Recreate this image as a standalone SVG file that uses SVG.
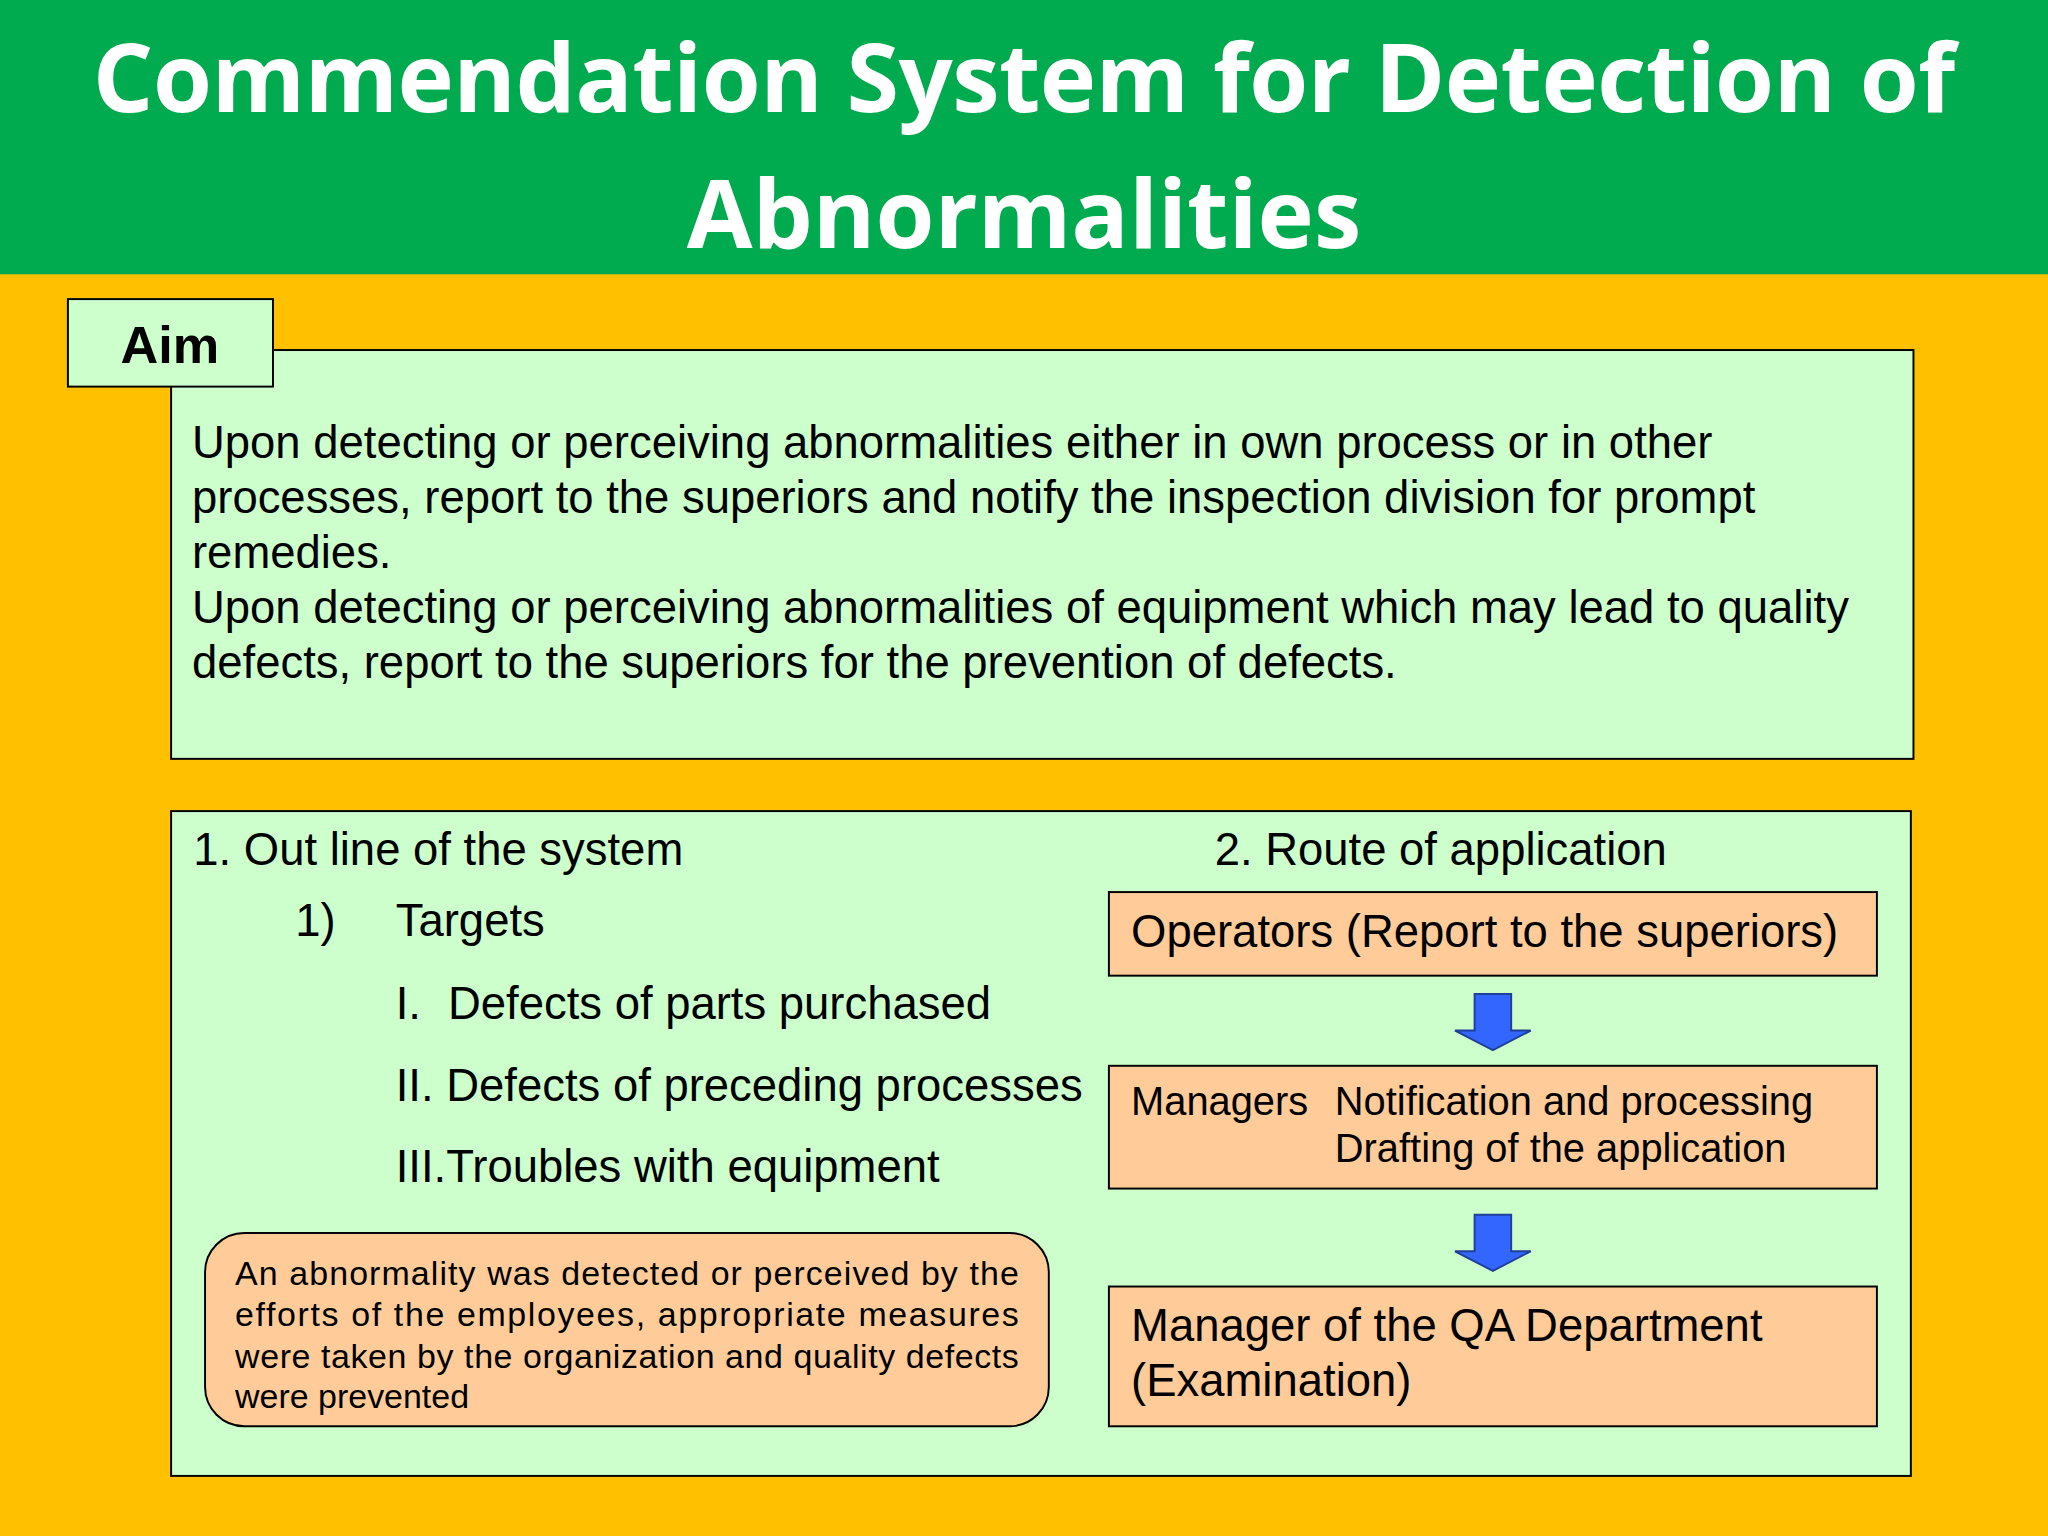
<svg xmlns="http://www.w3.org/2000/svg" width="2048" height="1536" viewBox="0 0 2048 1536">
<style>
.bx{fill:#CCFFCC;stroke:#000;stroke-width:1.5}
.or{fill:#FFCC99;stroke:#000;stroke-width:1.5}
.t{font-family:"Liberation Sans",Arial,sans-serif;font-size:34.8px;fill:#000}
.s{font-family:"Liberation Sans",Arial,sans-serif;font-size:26px;fill:#000}
.m{font-family:"Liberation Sans",Arial,sans-serif;font-size:30.5px;fill:#000}
.ar{fill:#3366FF;stroke:#1F3F99;stroke-width:1.5}
</style>
<g transform="scale(1.30612)">
<rect width="1568" height="1176" fill="#FFC000"/>
<rect width="1568" height="210" fill="#00AA4F"/>
<g id="title" font-family="'Open Sans',sans-serif" font-weight="bold" font-size="73" fill="#fff" text-anchor="middle">
<text x="784" y="86" textLength="1426">Commendation System for Detection of</text>
<text x="784" y="190">Abnormalities</text>
</g>
<g id="aim">
<rect class="bx" x="131" y="268" width="1334" height="313"/>
<rect class="bx" x="52" y="229" width="157" height="67"/>
<text x="130" y="278" text-anchor="middle" font-family="'Liberation Sans',Arial,sans-serif" font-weight="bold" font-size="40">Aim</text>
<text class="t" x="147" y="351">Upon detecting or perceiving abnormalities either in own process or in other</text>
<text class="t" x="147" y="393">processes, report to the superiors and notify the inspection division for prompt</text>
<text class="t" x="147" y="435">remedies.</text>
<text class="t" x="147" y="477">Upon detecting or perceiving abnormalities of equipment which may lead to quality</text>
<text class="t" x="147" y="519">defects, report to the superiors for the prevention of defects.</text>
</g>
<g id="system">
<rect class="bx" x="131" y="621" width="1332" height="509"/>
<text class="t" x="148" y="662">1. Out line of the system</text>
<text class="t" x="930" y="662">2. Route of application</text>
<text class="t" x="226" y="717">1)</text>
<text class="t" x="303" y="717">Targets</text>
<text class="t" x="303" y="780">I.</text>
<text class="t" x="343" y="780">Defects of parts purchased</text>
<text class="t" x="303" y="843">II. Defects of preceding processes</text>
<text class="t" x="303" y="905">III.Troubles with equipment</text>
</g>
<g id="note">
<rect class="or" x="157" y="944" width="646" height="148" rx="30"/>
<text class="s" x="180" y="984" textLength="600" lengthAdjust="spacing">An abnormality was detected or perceived by the</text>
<text class="s" x="180" y="1015" textLength="600" lengthAdjust="spacing">efforts of the employees, appropriate measures</text>
<text class="s" x="180" y="1047" textLength="600" lengthAdjust="spacing">were taken by the organization and quality defects</text>
<text class="s" x="180" y="1078">were prevented</text>
</g>
<g id="operators">
<rect class="or" x="849" y="683" width="588" height="64"/>
<text class="t" x="866" y="725">Operators (Report to the superiors)</text>
</g>
<g id="managers">
<rect class="or" x="849" y="816" width="588" height="94"/>
<text class="m" x="866" y="854">Managers</text>
<text class="m" x="1022" y="854">Notification and processing</text>
<text class="m" x="1022" y="890">Drafting of the application</text>
</g>
<g id="qa">
<rect class="or" x="849" y="985" width="588" height="107"/>
<text class="t" x="866" y="1027">Manager of the QA Department</text>
<text class="t" x="866" y="1069">(Examination)</text>
</g>
<g id="connectors">
<path class="ar" d="M1129,761 H1157 V789 H1172 L1143,804 L1114,789 H1129 Z"/>
<path class="ar" d="M1129,930 H1157 V958 H1172 L1143,973 L1114,958 H1129 Z"/>
</g>
</g>
</svg>
